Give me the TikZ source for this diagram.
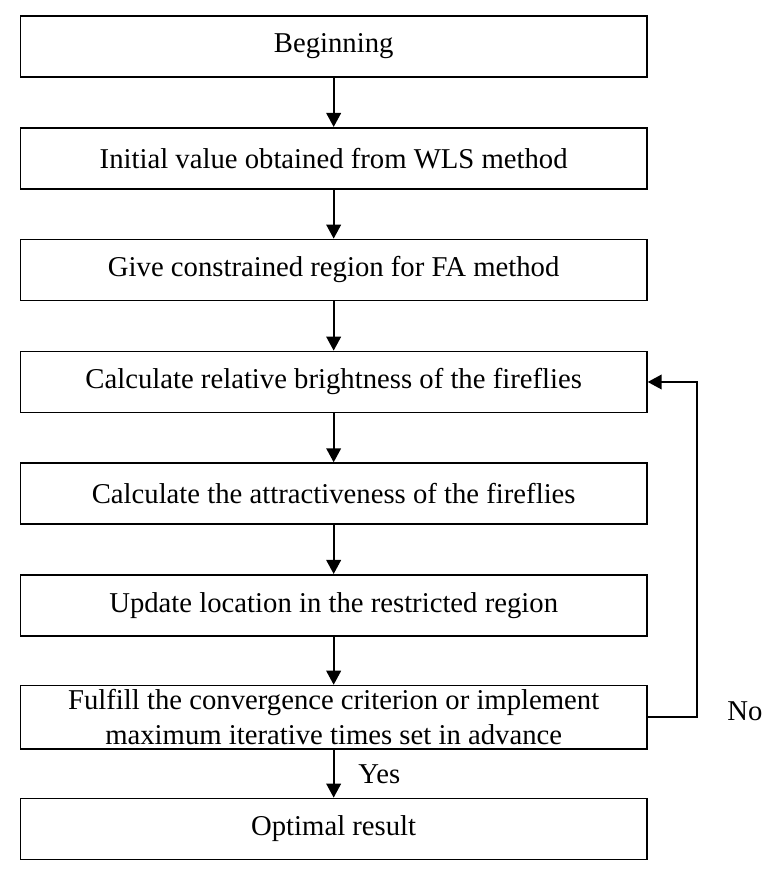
\documentclass[tikz,border=0pt]{standalone}
\usepackage{fontspec}
\setmainfont{Liberation Serif}
\usepackage{tikz}
\usetikzlibrary{arrows.meta}

\begin{document}
\begin{tikzpicture}[box/.style={shape=rectangle,draw=black,line width=1.5pt,minimum width=18.79cm,minimum height=1.83cm,align=center,font=\fontsize{24.5}{30}\selectfont},
arr/.style={line width=1.5pt,-{Triangle[length=0.42cm,width=0.44cm]}}]
\useasboundingbox (0,0) rectangle (22.92,26.22);
\node[box] (1) at (10.01,24.83) {Beginning};
\node[box] (2) at (10.01,21.47) {Initial value obtained from WLS method};
\node[box] (3) at (10.01,18.12) {Give constrained region for FA method};
\node[box] (4) at (10.01,14.76) {Calculate relative brightness of the fireflies};
\node[box] (5) at (10.01,11.41) {Calculate the attractiveness of the fireflies};
\node[box] (6) at (10.01,8.06) {Update location in the restricted region};
\node[box] (7) at (10.01,4.70) {Fulfill the convergence criterion or implement\\maximum iterative times set in advance};
\node[box] (8) at (10.01,1.35) {Optimal result};
\coordinate (c) at (20.91,4.70);
\path [arr] (1) edge node[left] {} (2);
\path [arr] (2) edge node[left] {} (3);
\path [arr] (3) edge node[left] {} (4);
\path [arr] (4) edge node[left] {} (5);
\path [arr] (5) edge node[left] {} (6);
\path [arr] (6) edge node[left] {} (7);
\path [arr] (7) edge node[right,xshift=0.6cm,font=\fontsize{24.5}{30}\selectfont] (yes) {Yes} (8);
\draw [arr] (7.east) -- (c) |- (4.east);
\node[font=\fontsize{24.5}{30}\selectfont] (no) at (22.35,4.89) {No};
\end{tikzpicture}
\end{document}
